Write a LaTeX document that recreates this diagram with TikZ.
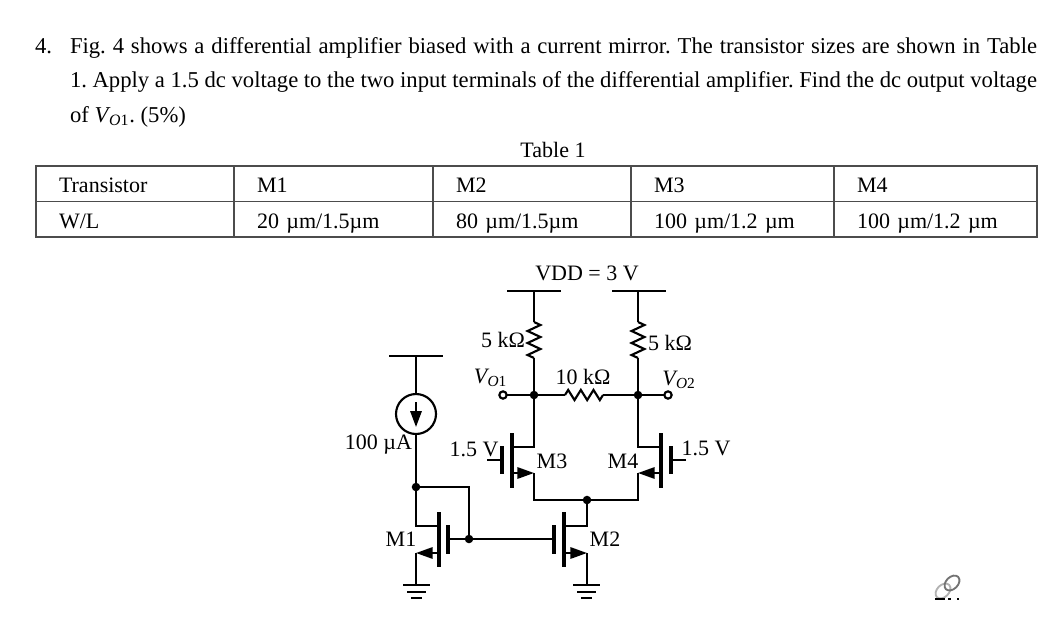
\documentclass[tikz,border=0pt]{standalone}
\usepackage{fontspec}
\setmainfont{Liberation Serif}
\usetikzlibrary{positioning,arrows.meta,decorations.pathmorphing}
\frenchspacing

\begin{document}
\begin{tikzpicture}[x=0.75pt, y=-0.75pt,
    every node/.style={
        font=\fontsize{16.5pt}{20pt}\selectfont,
        inner sep=0pt,
        outer sep=0pt
    },
    cell/.style={
        draw=black!70,
        line width=0.9pt,
        rectangle,
        text width=#1,
        text height=14pt,
        text depth=0.7pt,
        inner xsep=17.25pt,
        minimum height=26.6pt,
        align=left
    },
    wire/.style={
        line width=1.6pt,
        black
    },
    rail/.style={
        line width=2pt,
        black
    },
    bar/.style={
        line width=2.7pt,
        black
    },
    resistor/.style={
        line width=1.6pt,
        decorate,
        decoration={zigzag, segment length=9pt, amplitude=4.8pt}
    },
    source/.style={
        line width=1.6pt,
        -{Triangle[length=12.5pt,width=8.5pt]}
    },
    dot/.style={
        circle,
        fill=black,
        minimum size=6.4pt
    },
    terminal/.style={
        circle,
        draw=black,
        fill=white,
        line width=1.6pt,
        minimum size=5.5pt
    }
]
    \useasboundingbox (0,0) rectangle (1059,632);

    % Question text
    \node[anchor=base west, font=\fontsize{17pt}{20pt}\selectfont] (number) at (35,53) {4.};
    \node[anchor=base west, text width=725.25pt, align=justify,
          font=\fontsize{17pt}{26pt}\selectfont] (question) at (70,53) {%
        Fig. 4 shows a differential amplifier biased with a current mirror. The transistor sizes are shown in Table\linebreak
        1. Apply a 1.5 dc voltage to the two input terminals of the differential amplifier. Find the dc output voltage\linebreak
        of \textit{V}\kern-1pt\textsubscript{\textit{O}1}. (5\%)\par};

    % Table
    \node (caption) at (553,150) {Table 1};
    \node[cell=114pt, anchor=north west] (head) at (36,166) {Transistor};
    \node[cell=114.75pt] (headA) [right=0pt of head] {M1};
    \node[cell=114pt] (headB) [right=0pt of headA] {M2};
    \node[cell=117.75pt] (headC) [right=0pt of headB] {M3};
    \node[cell=117.75pt] (headD) [right=0pt of headC] {M4};
    \node[cell=114pt] (size) [below=0pt of head] {W/L};
    \node[cell=114.75pt] (sizeA) [right=0pt of size] {20 µm/1.5µm};
    \node[cell=114pt] (sizeB) [right=0pt of sizeA] {80 µm/1.5µm};
    \node[cell=117.75pt] (sizeC) [right=0pt of sizeB] {100 µm/1.2 µm};
    \node[cell=117.75pt] (sizeD) [right=0pt of sizeC] {100 µm/1.2 µm};

    % Supply rails
    \coordinate (vddLa) at (507,291);
    \coordinate (vddLb) at (561,291);
    \coordinate (vddL) at (534,291);
    \coordinate (vddRa) at (612,291);
    \coordinate (vddRb) at (666,291);
    \coordinate (vddR) at (638,291);
    \coordinate (railA) at (389,356);
    \coordinate (railB) at (443,356);
    \coordinate (rail) at (416,356);
    \draw[rail] (vddLa) -- (vddLb);
    \draw[rail] (vddRa) -- (vddRb);
    \draw[rail] (railA) -- (railB);
    \node (vdd) at (587,273) {VDD = 3 V};

    % Load resistors and output nodes
    \coordinate (r1top) at (534,322);
    \coordinate (r1bot) at (534,358);
    \coordinate (r2top) at (638,322);
    \coordinate (r2bot) at (638,358);
    \node[dot] (out1) at (534,395) {};
    \node[dot] (out2) at (638,395) {};
    \node[terminal] (vo1) at (503,395) {};
    \node[terminal] (vo2) at (668,395) {};
    \coordinate (r3a) at (565,395);
    \coordinate (r3b) at (603,395);
    \draw[wire] (vddL) -- (r1top);
    \draw[wire] (r1bot) -- (out1);
    \draw[wire] (vddR) -- (r2top);
    \draw[wire] (r2bot) -- (out2);
    \draw[resistor] (r1top) -- (r1bot);
    \draw[resistor] (r2top) -- (r2bot);
    \draw[resistor, decoration={segment length=9.5pt, amplitude=3.8pt}] (r3a) -- (r3b);
    \draw[wire] (vo1) -- (out1) -- (r3a);
    \draw[wire] (r3b) -- (out2) -- (vo2);
    \node (r1label) at (503,340) {5 kΩ};
    \node (r2label) at (670,343) {5 kΩ};
    \node (r3label) at (583,377) {10 kΩ};
    \node (vo1label) at (490.5,378) {\textit{V}\kern-1.5pt\textsubscript{\textit{O}1}};
    \node (vo2label) at (679,380) {\textit{V}\kern-1.5pt\textsubscript{\textit{O}2}};

    % Current source
    \node[circle, draw=black, line width=1.6pt, minimum size=30pt] (isrc) at (416,414) {};
    \coordinate (isrcA) at (416,402);
    \coordinate (isrcB) at (416,427);
    \draw[wire] (rail) -- (isrc);
    \draw[line width=1.6pt, -{Triangle[length=12pt,width=8.5pt]}] (isrcA) -- (isrcB);
    \node[anchor=east] (isrclabel) at (412,445) {100 µA};

    % M1
    \node[dot] (m1top) at (416,487) {};
    \node[dot] (bias) at (469,539) {};
    \coordinate (m1d) at (416,526);
    \coordinate (m1dc) at (439,526);
    \coordinate (m1s) at (416,553);
    \coordinate (m1sc) at (439,553);
    \coordinate (m1a) at (439,512);
    \coordinate (m1b) at (439,567);
    \coordinate (m1ga) at (448,525);
    \coordinate (m1gb) at (448,554);
    \coordinate (m1g) at (448,539);
    \coordinate (m1fold) at (469,487);
    \coordinate (gnd1) at (416,585);
    \draw[wire] (isrc) -- (m1top) -- (m1d) -- (m1dc);
    \draw[wire] (m1top) -- (m1fold) -- (bias);
    \draw[wire] (m1g) -- (bias);
    \draw[bar] (m1a) -- (m1b);
    \draw[bar] (m1ga) -- (m1gb);
    \draw[source] (m1sc) -- (m1s);
    \draw[wire] (m1s) -- (gnd1);
    \draw[rail] (403,585) -- (430,585);
    \draw[rail] (407,592) -- (426,592);
    \draw[rail] (411,598) -- (422,598);
    \node (m1label) at (401,539) {M1};

    % M2
    \node[dot] (tail) at (587,500) {};
    \coordinate (m2g) at (554,539);
    \coordinate (m2ga) at (554,525);
    \coordinate (m2gb) at (554,554);
    \coordinate (m2a) at (564,512);
    \coordinate (m2b) at (564,567);
    \coordinate (m2d) at (587,526);
    \coordinate (m2dc) at (564,526);
    \coordinate (m2s) at (587,553);
    \coordinate (m2sc) at (564,553);
    \coordinate (gnd2) at (587,585);
    \draw[wire] (bias) -- (m2g);
    \draw[bar] (m2ga) -- (m2gb);
    \draw[bar] (m2a) -- (m2b);
    \draw[wire] (tail) -- (m2d) -- (m2dc);
    \draw[source] (m2sc) -- (m2s);
    \draw[wire] (m2s) -- (gnd2);
    \draw[rail] (573,585) -- (600,585);
    \draw[rail] (577,592) -- (596,592);
    \draw[rail] (581,598) -- (592,598);
    \node (m2label) at (605,539) {M2};

    % M3
    \coordinate (m3g) at (487,460);
    \coordinate (m3gc) at (502,460);
    \coordinate (m3ga) at (502,446);
    \coordinate (m3gb) at (502,474);
    \coordinate (m3a) at (512,433);
    \coordinate (m3b) at (512,488);
    \coordinate (m3d) at (534,447);
    \coordinate (m3dc) at (512,447);
    \coordinate (m3s) at (534,473);
    \coordinate (m3sc) at (512,473);
    \coordinate (m3tail) at (534,500);
    \draw[wire] (m3g) -- (m3gc);
    \draw[bar] (m3ga) -- (m3gb);
    \draw[bar] (m3a) -- (m3b);
    \draw[wire] (out1) -- (m3d) -- (m3dc);
    \draw[source] (m3sc) -- (m3s);
    \node (m3label) at (552,461) {M3};
    \node (m3input) at (474,449) {1.5 V};

    % M4
    \coordinate (m4g) at (686,460);
    \coordinate (m4gc) at (671,460);
    \coordinate (m4ga) at (671,446);
    \coordinate (m4gb) at (671,474);
    \coordinate (m4a) at (661,433);
    \coordinate (m4b) at (661,488);
    \coordinate (m4d) at (638,447);
    \coordinate (m4dc) at (661,447);
    \coordinate (m4s) at (638,473);
    \coordinate (m4sc) at (661,473);
    \coordinate (m4tail) at (638,500);
    \draw[wire] (m4g) -- (m4gc);
    \draw[bar] (m4ga) -- (m4gb);
    \draw[bar] (m4a) -- (m4b);
    \draw[wire] (out2) -- (m4d) -- (m4dc);
    \draw[source] (m4sc) -- (m4s);
    \node (m4label) at (623,461) {M4};
    \node (m4input) at (706,448) {1.5 V};

    % Tail wire
    \draw[wire] (m3s) -- (m3tail) -- (tail) -- (m4tail) -- (m4s);

    % Link icon
    \draw[gray!60, line width=1.4pt, rotate around={45:(943,591)}] (943,591) ellipse (6.5pt and 4.5pt);
    \draw[black!55, line width=1.4pt, rotate around={45:(952,583)}] (952,583) ellipse (6.5pt and 4.5pt);
    \draw[black, line width=1pt] (935,599) -- (945,599);
    \draw[black, line width=1pt] (948,599) -- (951,599);
    \draw[black, line width=1pt] (957,599) -- (959,599);
\end{tikzpicture}
\end{document}
